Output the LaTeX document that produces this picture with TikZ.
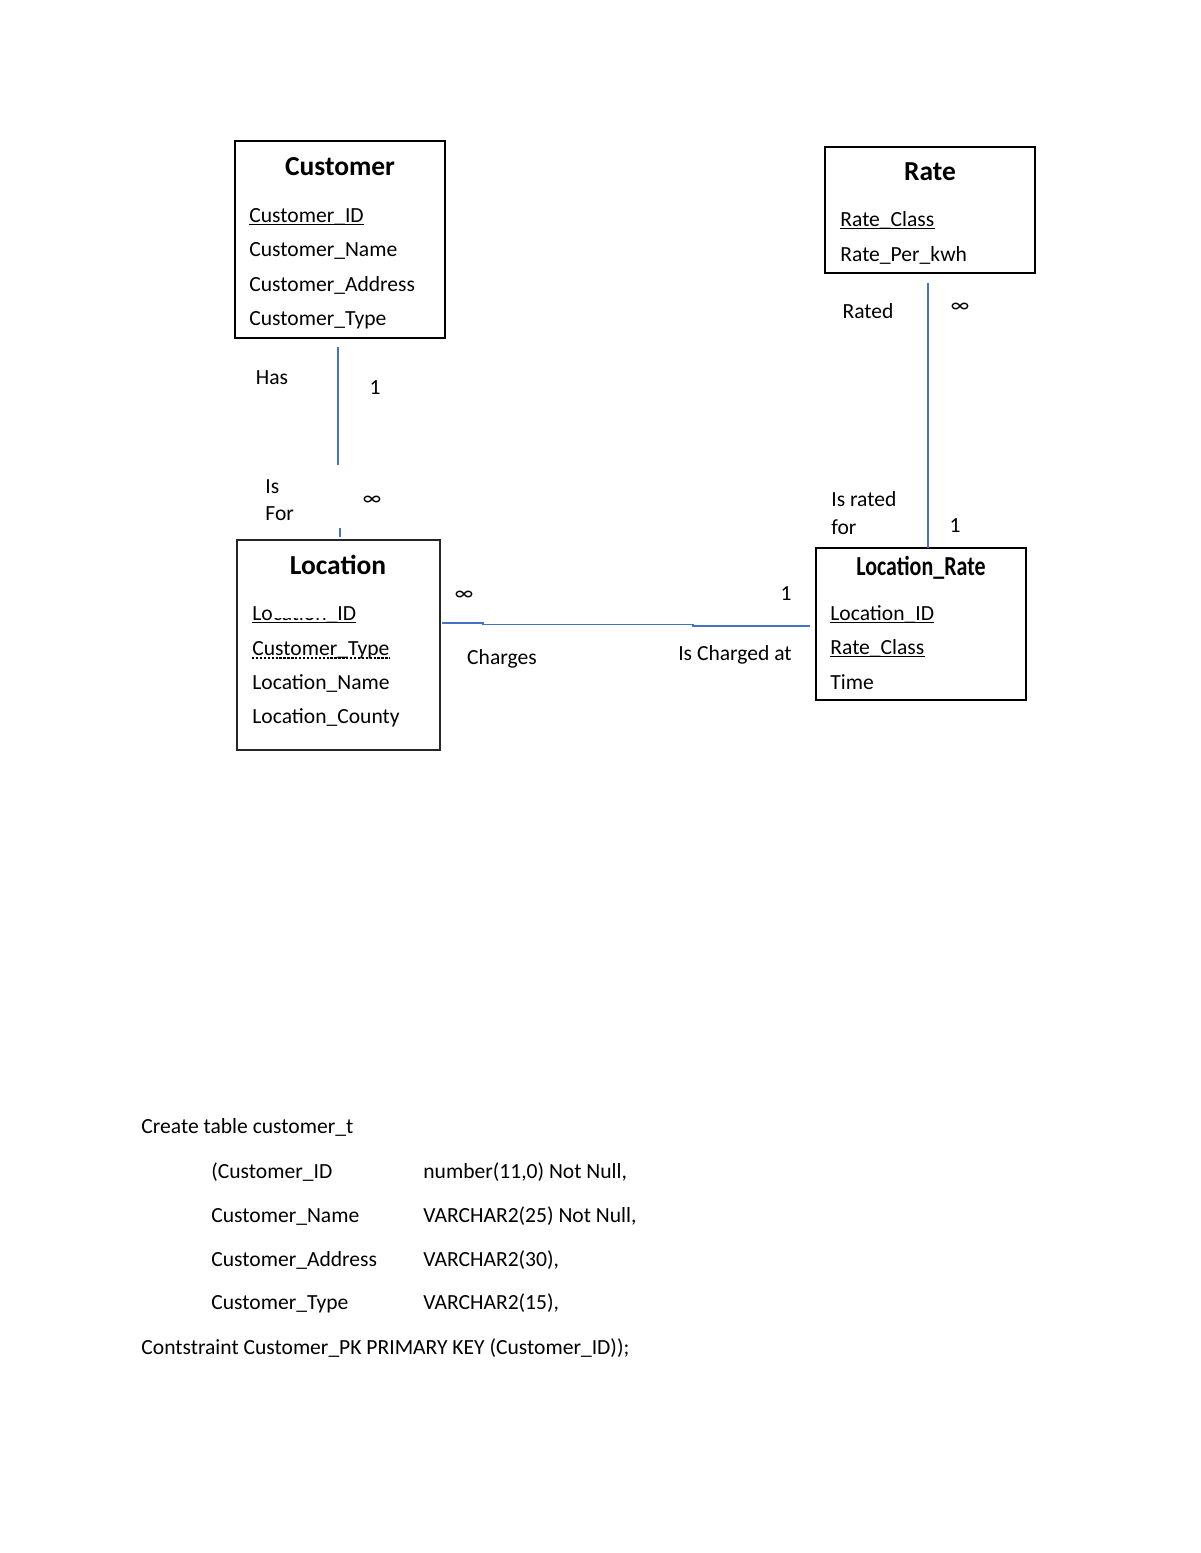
\documentclass[tikz,border=0pt]{standalone}
\usepackage{fontspec}
\usepackage{graphicx}
\setmainfont{Carlito}
\definecolor{lineblue}{HTML}{4472C4}
\tikzset{
  ttl/.style={font=\bfseries\fontsize{14}{16}\selectfont, anchor=center, inner sep=0pt},
  attr/.style={font=\fontsize{11}{13}\selectfont, anchor=mid west, inner sep=0pt, yshift=-1.5pt},
  lbl/.style={font=\fontsize{11}{13}\selectfont, anchor=center, inner sep=0pt, yshift=-0.6pt},
  rel/.style={draw=lineblue, line width=0.8pt},
  uln/.style={line width=0.7pt},
  dln/.style={line width=0.55pt, dash pattern=on 1.2pt off 0.8pt},
}
\begin{document}
\begin{tikzpicture}[x=0.51pt, y=-0.51pt]
\useasboundingbox (0,0) rectangle (1200,1553);
% entity boxes
\draw[line width=1.5pt] (235,141) rectangle (445,338);
\node[ttl] (custT) at (340,167) {Customer};
\node[attr] (c1) at (249,215) {Customer\_ID};
\node[attr] (c2) at (249,249) {Customer\_Name};
\node[attr] (c3) at (249,284) {Customer\_Address};
\node[attr] (c4) at (249,318) {Customer\_Type};

\draw[line width=1.5pt] (825,147) rectangle (1035,273);
\node[ttl] (rateT) at (930,172) {Rate};
\node[attr] (r1) at (840,219) {Rate\_Class};
\node[attr] (r2) at (840,254) {Rate\_Per\_kwh};

\draw[line width=0.9pt, black!85] (237,540) rectangle (440,750);
\node[ttl] (locT) at (338,565) {Location};
\node[attr] (l1) at (252,613) {Location\_ID};
\node[attr] (l2) at (252,648) {Customer\_Type};
\node[attr] (l3) at (252,682) {Location\_Name};
\node[attr] (l4) at (252,716) {Location\_County};

\draw[line width=1.5pt] (816,548) rectangle (1026,700);
\node[ttl] (lrT) at (921,568) {\scalebox{0.8}[1]{Location\_Rate}};
\node[attr] (lr1) at (830,613) {Location\_ID};
\node[attr] (lr2) at (830,647) {Rate\_Class};
\node[attr] (lr3) at (830,682) {Time};

% underlines
\draw[uln] ([yshift=-1.1pt]c1.base west) -- ([yshift=-1.1pt]c1.base east);
\draw[uln] ([yshift=-1.1pt]r1.base west) -- ([yshift=-1.1pt]r1.base east);
\draw[uln] ([yshift=-1.1pt]l1.base west) -- ([yshift=-1.1pt]l1.base east);
\draw[dln] ([yshift=-1.2pt]l2.base west) -- ([yshift=-1.2pt]l2.base east);
\draw[uln] ([yshift=-1.1pt]lr1.base west) -- ([yshift=-1.1pt]lr1.base east);
\draw[uln] ([yshift=-1.1pt]lr2.base west) -- ([yshift=-1.1pt]lr2.base east);
% the part of Location_ID that the reference shows covered
\fill[white] (273,600) rectangle (329,618);

% connector end points
\coordinate (cA) at (338,347);
\coordinate (cB) at (338,465);
\coordinate (cC) at (340,528);
\coordinate (cD) at (340,537);
\coordinate (rA) at (928,283);
\coordinate (rB) at (928,548);
\coordinate (hA) at (442,623);
\coordinate (hB) at (483,623);
\coordinate (hC) at (483,624.5);
\coordinate (hD) at (693,624.5);
\coordinate (hE) at (693,626);
\coordinate (hF) at (810,626);
\draw[rel] (cA) -- (cB);
\draw[rel] (cC) -- (cD);
\draw[rel] (rA) -- (rB);
\draw[rel] (hA) -- (hB) -- (hC) -- (hD) -- (hE) -- (hF);

% relationship labels
\node[lbl] (has) at (272,376) {Has};
\node[lbl] (one1) at (375,386) {1};
\node[attr] (is) at (265,486) {Is};
\node[attr] (for) at (265,513) {For};
\node[lbl] (inf1) at (372,500) {∞};
\node[lbl] (rated) at (868,310) {Rated};
\node[lbl] (inf2) at (960,307) {∞};
\node[attr] (isr) at (831,499) {Is rated};
\node[attr] (isf) at (831,527) {for};
\node[lbl] (one2) at (955,524) {1};
\node[lbl] (inf3) at (464,595) {∞};
\node[lbl] (one3) at (786,592) {1};
\node[lbl] (chg) at (502,658) {Charges};
\node[lbl] (isch) at (735,654) {Is Charged at};

% SQL
\node[attr] (s0) at (141,1126) {Create table customer\_t};
\node[attr] (s1a) at (211,1171) {(Customer\_ID};
\node[attr] (s1b) at (423,1171) {number(11,0) Not Null,};
\node[attr] (s2a) at (211,1215) {Customer\_Name};
\node[attr] (s2b) at (423,1215) {VARCHAR2(25) Not Null,};
\node[attr] (s3a) at (211,1259) {Customer\_Address};
\node[attr] (s3b) at (423,1259) {VARCHAR2(30),};
\node[attr] (s4a) at (211,1302) {Customer\_Type};
\node[attr] (s4b) at (423,1302) {VARCHAR2(15),};
\node[attr] (s5) at (141,1347) {Contstraint Customer\_PK PRIMARY KEY (Customer\_ID));};
\end{tikzpicture}
\end{document}
